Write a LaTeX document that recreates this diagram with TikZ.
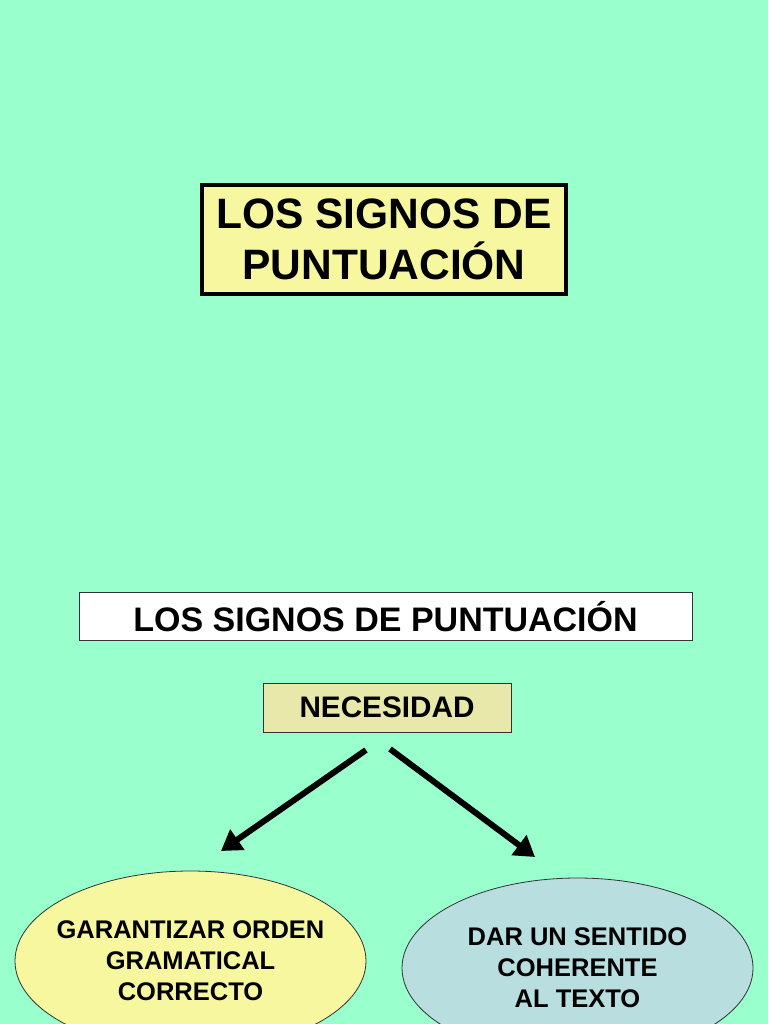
\documentclass[tikz,border=0pt]{standalone}
\usepackage{fontspec}
\setmainfont{Liberation Sans}
\usetikzlibrary{arrows.meta,shapes.geometric}
\definecolor{bgmint}{HTML}{99FFCC}
\definecolor{paleyellow}{HTML}{F7F7A0}
\definecolor{khaki}{HTML}{E8E8AA}
\definecolor{paleblue}{HTML}{B8DEE0}
\definecolor{edgegrey}{HTML}{333333}
\tikzset{
  titlebox/.style={draw=black, line width=4pt, fill=paleyellow, minimum width=364pt, minimum height=109pt, inner sep=0pt, align=center, font=\bfseries\fontsize{42.5}{51}\selectfont},
  headbox/.style={draw=edgegrey, line width=0.8pt, fill=white, minimum width=613pt, minimum height=48pt, inner sep=0pt, font=\bfseries\fontsize{34}{40}\selectfont},
  needbox/.style={draw=edgegrey, line width=0.8pt, fill=khaki, minimum width=248pt, minimum height=49pt, inner sep=0pt, font=\bfseries\fontsize{29.7}{34}\selectfont},
  bubble/.style={ellipse, draw=edgegrey, line width=0.8pt, minimum width=351pt, minimum height=180pt, inner xsep=-40pt, inner ysep=-40pt, align=center, font=\bfseries\fontsize{25.5}{31}\selectfont},
  bigarrow/.style={line width=6pt, -{Triangle[length=20pt,width=24pt]}}
}
\begin{document}
\begin{tikzpicture}[x=1pt,y=-1pt]
  \fill[bgmint] (0,0) rectangle (768,1024);
  \useasboundingbox (0,0) rectangle (768,1024);
  \node[titlebox] (title) at (384,239.5) {LOS SIGNOS DE\\PUNTUACIÓN};
  \node[headbox] (head) at (385.5,616.5) {LOS SIGNOS DE PUNTUACIÓN};
  \node[needbox] (need) at (387,707.5) {NECESIDAD};
  \begin{scope}
    \clip (0,0) rectangle (768,1024);
    \node[bubble, fill=paleyellow] (left) at (190.5,961) {GARANTIZAR ORDEN\\GRAMATICAL\\CORRECTO};
    \node[bubble, fill=paleblue] (right) at (577.5,968) {DAR UN SENTIDO\\COHERENTE\\AL TEXTO};
  \end{scope}
  \coordinate (ls) at (366,750);
  \coordinate (le) at (221,851);
  \coordinate (rs) at (390,749);
  \coordinate (re) at (535,857);
  \draw[bigarrow] (ls) -- (le);
  \draw[bigarrow] (rs) -- (re);
\end{tikzpicture}
\end{document}
